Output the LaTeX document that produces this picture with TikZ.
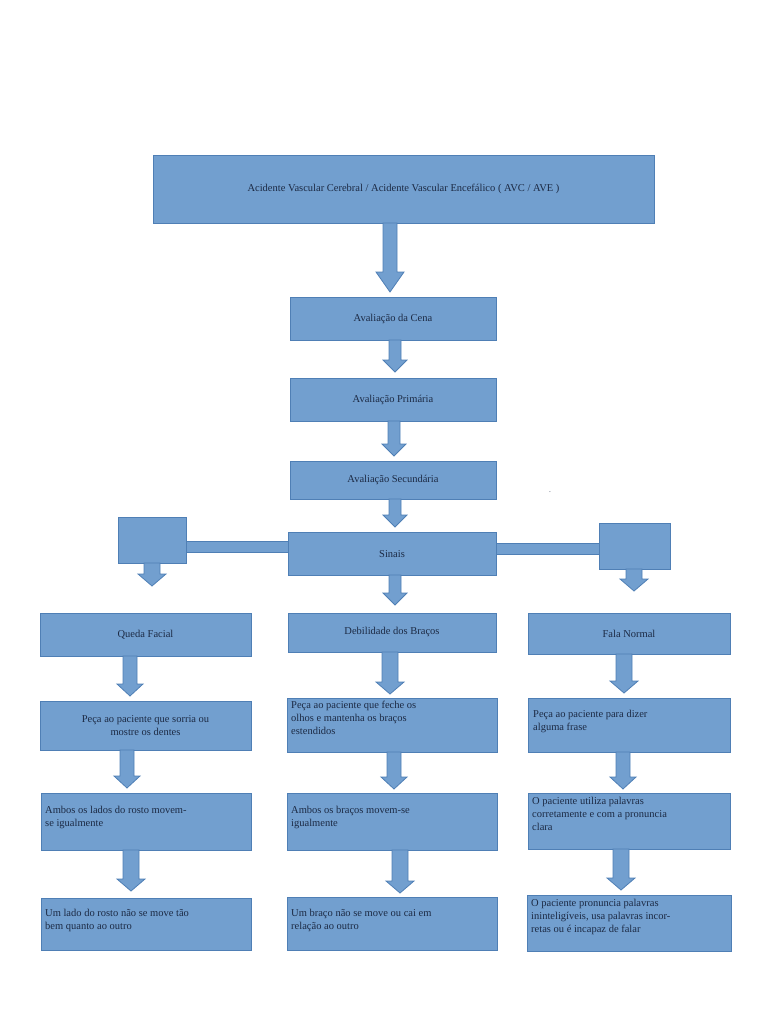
\documentclass[tikz,border=0pt]{standalone}
\usepackage{fontspec}
\setmainfont{Liberation Serif}
\begin{document}
\begin{tikzpicture}[x=1pt,y=-1pt,
  bx/.style={fill=fillc,draw=edgec,line width=0.8pt},
  txt/.style={text=textc,font=\fontsize{10.5}{13}\selectfont,align=center},
  ltxt/.style={text=textc,font=\fontsize{10.5}{13}\selectfont,align=left,anchor=north west,inner sep=0pt}]
\definecolor{fillc}{HTML}{729FCF}
\definecolor{edgec}{HTML}{4F7FB5}
\definecolor{textc}{HTML}{1C2A44}
\useasboundingbox (0,0) rectangle (768,1024);
\newcommand{\barrow}[4]{% x, ytop, ybot, half shaft
  \pgfmathsetmacro{\hh}{#4+7}
  \draw[bx] (#1-#4,#2) -- (#1+#4,#2) -- (#1+#4,#3-20) -- (#1+\hh,#3-20) -- (#1,#3) -- (#1-\hh,#3-20) -- (#1-#4,#3-20) -- cycle;}
\newcommand{\sarrow}[4]{%
  \pgfmathsetmacro{\hh}{#4+6}
  \draw[bx] (#1-#4,#2) -- (#1+#4,#2) -- (#1+#4,#3-12) -- (#1+\hh,#3-12) -- (#1,#3) -- (#1-\hh,#3-12) -- (#1-#4,#3-12) -- cycle;}
% top
\draw[bx] (153,155) rectangle (654,223);
\node[txt] (top) at (403.5,189) {Acidente Vascular Cerebral / Acidente Vascular Encefálico ( AVC / AVE )};
\barrow{390}{223}{292}{7}
\draw[bx] (290,297) rectangle (496,340);
\node[txt] (cena) at (393,319) {Avaliação da Cena};
\sarrow{395}{340}{372}{6}
\draw[bx] (290,378) rectangle (496,421);
\node[txt] (prim) at (393,400) {Avaliação Primária};
\sarrow{394}{421}{456}{6}
\draw[bx] (290,461) rectangle (496,499);
\node[txt] (sec) at (393,480) {Avaliação Secundária};
\node[txt,font=\tiny] (dash) at (550,493) {-};
\sarrow{395}{499}{527}{6}
% sinais with side bars
\draw[bx] (185,541) rectangle (289,552);
\draw[bx] (496,543) rectangle (600,554);
\draw[bx] (288,532) rectangle (496,575);
\node[txt] (sinais) at (392,554) {Sinais};
\draw[bx] (118,517) rectangle (186,563);
\sarrow{152}{563}{586}{8}
\draw[bx] (599,523) rectangle (670,569);
\sarrow{634}{569}{591}{8}
\sarrow{395}{575}{605}{6}
% row 1
\draw[bx] (40,613) rectangle (251,656);
\node[txt] (qf) at (145.5,634.5) {Queda Facial};
\draw[bx] (288,613) rectangle (496,652);
\node[txt] (db) at (392,632) {Debilidade dos Braços};
\draw[bx] (528,613) rectangle (730,654);
\node[txt] (fn) at (629,634) {Fala Normal};
\sarrow{130}{656}{696}{7}
\sarrow{390}{652}{694}{8}
\sarrow{624}{654}{693}{8}
% row 2
\draw[bx] (40,701) rectangle (251,750);
\node[txt] (l2) at (145.5,725.5) {Peça ao paciente que sorria ou\\mostre os dentes};
\draw[bx] (287,698) rectangle (497,752);
\node[ltxt] (c2) at (291,701) {Peça ao paciente que feche os\\olhos e mantenha os braços\\estendidos};
\draw[bx] (528,698) rectangle (730,752);
\node[ltxt] (r2) at (533,710) {Peça ao paciente para dizer\\alguma frase};
\sarrow{127}{750}{788}{7}
\sarrow{394}{752}{789}{7}
\sarrow{623}{752}{789}{7}
% row 3
\draw[bx] (41,793) rectangle (251,850);
\node[ltxt] (l3) at (45,806) {Ambos os lados do rosto movem-\\se igualmente};
\draw[bx] (287,793) rectangle (497,850);
\node[ltxt] (c3) at (291,806) {Ambos os braços movem-se\\igualmente};
\draw[bx] (528,793) rectangle (730,849);
\node[ltxt] (r3) at (532,797) {O paciente utiliza palavras\\corretamente e com a pronuncia\\clara};
\sarrow{131}{850}{891}{8}
\sarrow{400}{850}{893}{8}
\sarrow{621}{849}{890}{8}
% row 4
\draw[bx] (41,898) rectangle (251,950);
\node[ltxt] (l4) at (45,909) {Um lado do rosto não se move tão\\bem quanto ao outro};
\draw[bx] (287,897) rectangle (497,950);
\node[ltxt] (c4) at (291,909) {Um braço não se move ou cai em\\relação ao outro};
\draw[bx] (527,895) rectangle (731,951);
\node[ltxt] (r4) at (531,899) {O paciente pronuncia palavras\\ininteligíveis, usa palavras incor-\\retas ou é incapaz de falar};
\end{tikzpicture}
\end{document}
